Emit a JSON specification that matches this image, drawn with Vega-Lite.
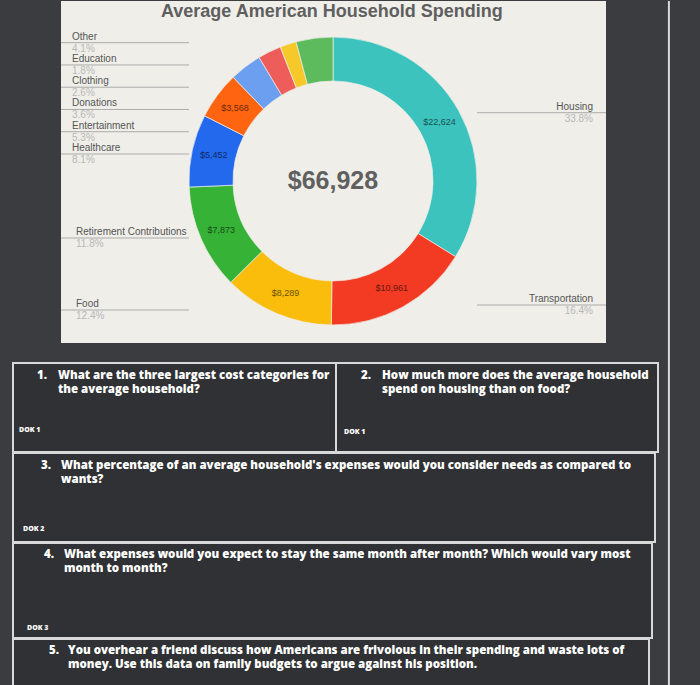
{
  "$schema": "https://vega.github.io/schema/vega-lite/v6.json",
  "background": "#3a3c40",
  "padding": {"left": 12, "top": 0, "right": 0, "bottom": 0},
  "spacing": 0,
  "config": {"view": {"stroke": null}, "font": "Liberation Sans"},
  "datasets": {
    "spending": [
      {"category": "Housing", "value": 22624, "pct": 0.338},
      {"category": "Transportation", "value": 10961, "pct": 0.164},
      {"category": "Food", "value": 8289, "pct": 0.124},
      {"category": "Retirement Contributions", "value": 7873, "pct": 0.118},
      {"category": "Healthcare", "value": 5452, "pct": 0.081},
      {"category": "Entertainment", "value": 3568, "pct": 0.053},
      {"category": "Donations", "value": 2420, "pct": 0.036},
      {"category": "Clothing", "value": 1750, "pct": 0.026},
      {"category": "Education", "value": 1231, "pct": 0.018},
      {"category": "Other", "value": 2760, "pct": 0.041}
    ],
    "questions": [
      {"q": 1, "num": "1.", "text": "What are the three largest cost categories for\nthe average household?", "dok": "DOK 1"},
      {"q": 2, "num": "2.", "text": "How much more does the average household\nspend on housing than on food?", "dok": "DOK 1"},
      {"q": 3, "num": "3.", "text": "What percentage of an average household's expenses would you consider needs as compared to\nwants?", "dok": "DOK 2"},
      {"q": 4, "num": "4.", "text": "What expenses would you expect to stay the same month after month? Which would vary most\nmonth to month?", "dok": "DOK 3"},
      {"q": 5, "num": "5.", "text": "You overhear a friend discuss how Americans are frivolous in their spending and waste lots of\nmoney. Use this data on family budgets to argue against his position.", "dok": ""}
    ]
  },
  "hconcat": [
    {
      "spacing": 19,
      "vconcat": [
        {
          "bounds": "flush",
          "spacing": 0,
          "hconcat": [
            {
              "width": 48, "height": 342,
              "data": {"values": [{}]},
              "mark": {"type": "text"},
              "encoding": {"text": {"value": ""}}
            },
            {
              "width": 128, "height": 342,
              "view": {"fill": "#efeee9", "stroke": null},
              "data": {"name": "spending"},
              "transform": [{"window": [{"op": "row_number", "as": "idx"}]}],
              "resolve": {"scale": {"y": "independent"}},
              "layer": [
                {
                  "transform": [{"filter": {"field": "idx", "gte": 5}}],
                  "encoding": {
                    "y": {"field": "idx", "type": "quantitative", "scale": {"domain": [-3.491, 11.873], "zero": false, "nice": false}, "axis": null}
                  },
                  "layer": [
                    {"mark": {"type": "rule", "color": "#ababab", "strokeWidth": 1}, "encoding": {}},
                    {"mark": {"type": "text", "align": "left", "baseline": "bottom", "dx": 11, "dy": -1, "fontSize": 10, "color": "#555555"},
                     "encoding": {"x": {"datum": 0, "type": "quantitative", "scale": {"domain": [0, 1]}, "axis": null}, "text": {"field": "category"}}},
                    {"mark": {"type": "text", "align": "left", "baseline": "top", "dx": 11, "dy": 1, "fontSize": 10, "color": "#b8b8b8"},
                     "encoding": {"x": {"datum": 0, "type": "quantitative", "scale": {"domain": [0, 1]}, "axis": null}, "text": {"field": "pct", "type": "quantitative", "format": ".1%"}}}
                  ]
                },
                {
                  "transform": [{"filter": {"field": "idx", "range": [3, 4]}}],
                  "encoding": {
                    "y": {"field": "idx", "type": "quantitative", "scale": {"domain": [2.5417, 7.2917], "zero": false, "nice": false}, "axis": null}
                  },
                  "layer": [
                    {"mark": {"type": "rule", "color": "#ababab", "strokeWidth": 1}, "encoding": {}},
                    {"mark": {"type": "text", "align": "left", "baseline": "bottom", "dx": 15, "dy": -1, "fontSize": 10, "color": "#555555"},
                     "encoding": {"x": {"datum": 0, "type": "quantitative", "scale": {"domain": [0, 1]}, "axis": null}, "text": {"field": "category"}}},
                    {"mark": {"type": "text", "align": "left", "baseline": "top", "dx": 15, "dy": 1, "fontSize": 10, "color": "#b8b8b8"},
                     "encoding": {"x": {"datum": 0, "type": "quantitative", "scale": {"domain": [0, 1]}, "axis": null}, "text": {"field": "pct", "type": "quantitative", "format": ".1%"}}}
                  ]
                }
              ]
            },
            {
              "width": 288, "height": 342,
              "view": {"fill": "#efeee9", "stroke": null},
              "data": {"name": "spending"},
              "transform": [{"window": [{"op": "row_number", "as": "idx"}]}],
              "layer": [
                {
                  "mark": {"type": "arc", "innerRadius": 100, "outerRadius": 144, "stroke": "#efeee9", "strokeWidth": 0.7, "yOffset": 9},
                  "encoding": {
                    "theta": {"field": "value", "type": "quantitative", "stack": true},
                    "order": {"field": "idx", "type": "quantitative"},
                    "color": {"field": "category", "type": "nominal", "legend": null,
                      "scale": {
                        "domain": ["Housing", "Transportation", "Food", "Retirement Contributions", "Healthcare", "Entertainment", "Donations", "Clothing", "Education", "Other"],
                        "range": ["#3cc3be", "#f33b24", "#fbbd0b", "#36b336", "#2369ee", "#ff6511", "#6d9ff0", "#ef5d5a", "#f6c829", "#5dba5d"]
                      }}
                  }
                },
                {
                  "mark": {"type": "text", "radius": 122, "yOffset": 9, "fontSize": 9, "color": "#000000", "opacity": 0.6},
                  "encoding": {
                    "theta": {"field": "value", "type": "quantitative", "stack": true},
                    "order": {"field": "idx", "type": "quantitative"},
                    "text": {"condition": {"test": "datum.value >= 3000", "field": "value", "type": "quantitative", "format": "$,.0f"}, "value": ""}
                  }
                },
                {
                  "transform": [{"aggregate": [{"op": "sum", "field": "value", "as": "total"}]}],
                  "mark": {"type": "text", "yOffset": 9, "fontSize": 25, "fontWeight": "bold", "color": "#606060", "baseline": "middle"},
                  "encoding": {"text": {"field": "total", "type": "quantitative", "format": "$,.0f"}}
                }
              ]
            },
            {
              "width": 129, "height": 342,
              "view": {"fill": "#efeee9", "stroke": null},
              "title": {"text": "Average American Household Spending", "frame": "group", "anchor": "start", "dx": -316, "offset": -20, "limit": 0, "fontSize": 18, "fontWeight": "bold", "color": "#5f5f5f", "font": "Liberation Sans"},
              "data": {"name": "spending"},
              "transform": [{"window": [{"op": "row_number", "as": "idx"}]}, {"filter": {"field": "idx", "lte": 2}}],
              "encoding": {
                "y": {"field": "idx", "type": "quantitative", "scale": {"domain": [0.4191, 2.1976], "zero": false, "nice": false, "reverse": true}, "axis": null}
              },
              "layer": [
                {"mark": {"type": "rule", "color": "#ababab", "strokeWidth": 1}, "encoding": {}},
                {"mark": {"type": "text", "align": "right", "baseline": "bottom", "dx": -13, "dy": -1, "fontSize": 10, "color": "#555555"},
                 "encoding": {"x": {"datum": 1, "type": "quantitative", "scale": {"domain": [0, 1]}, "axis": null}, "text": {"field": "category"}}},
                {"mark": {"type": "text", "align": "right", "baseline": "top", "dx": -13, "dy": 1, "fontSize": 10, "color": "#b8b8b8"},
                 "encoding": {"x": {"datum": 1, "type": "quantitative", "scale": {"domain": [0, 1]}, "axis": null}, "text": {"field": "pct", "type": "quantitative", "format": ".1%"}}}
              ]
            }
          ]
        },
        {
          "spacing": -2,
          "vconcat": [
            {
              "bounds": "flush",
              "spacing": 0,
              "hconcat": [
                {
                  "width": 323, "height": 89,
                  "view": {"fill": "#303134", "stroke": "#d8d8d8", "strokeWidth": 2},
                  "data": {"name": "questions"},
                  "transform": [{"filter": {"field": "q", "equal": 1}}],
                  "encoding": {
                    "x": {"datum": 0, "type": "quantitative", "scale": {"domain": [0, 1]}, "axis": null},
                    "y": {"datum": 1, "type": "quantitative", "scale": {"domain": [0, 1]}, "axis": null}
                  },
                  "layer": [
                    {"mark": {"type": "text", "align": "left", "baseline": "top", "dx": 24, "dy": 7, "font": "Open Sans", "fontWeight": 800, "fontSize": 11.5, "color": "#ffffff"}, "encoding": {"text": {"field": "num"}}},
                    {"mark": {"type": "text", "align": "left", "baseline": "top", "dx": 45, "dy": 7, "font": "Open Sans", "fontWeight": 800, "fontSize": 11.5, "lineHeight": 13.5, "lineBreak": "\n", "color": "#ffffff"}, "encoding": {"text": {"field": "text"}}},
                    {"mark": {"type": "text", "align": "left", "baseline": "bottom", "dx": 6, "dy": -19, "font": "Open Sans", "fontWeight": 800, "fontSize": 7, "color": "#ffffff"},
                     "encoding": {"y": {"datum": 0, "type": "quantitative", "scale": {"domain": [0, 1]}, "axis": null}, "text": {"field": "dok"}}}
                  ]
                },
                {
                  "width": 322, "height": 89,
                  "view": {"fill": "#303134", "stroke": "#d8d8d8", "strokeWidth": 2},
                  "data": {"name": "questions"},
                  "transform": [{"filter": {"field": "q", "equal": 2}}],
                  "encoding": {
                    "x": {"datum": 0, "type": "quantitative", "scale": {"domain": [0, 1]}, "axis": null},
                    "y": {"datum": 1, "type": "quantitative", "scale": {"domain": [0, 1]}, "axis": null}
                  },
                  "layer": [
                    {"mark": {"type": "text", "align": "left", "baseline": "top", "dx": 25, "dy": 7, "font": "Open Sans", "fontWeight": 800, "fontSize": 11.5, "color": "#ffffff"}, "encoding": {"text": {"field": "num"}}},
                    {"mark": {"type": "text", "align": "left", "baseline": "top", "dx": 46, "dy": 7, "font": "Open Sans", "fontWeight": 800, "fontSize": 11.5, "lineHeight": 13.5, "lineBreak": "\n", "color": "#ffffff"}, "encoding": {"text": {"field": "text"}}},
                    {"mark": {"type": "text", "align": "left", "baseline": "bottom", "dx": 8, "dy": -17, "font": "Open Sans", "fontWeight": 800, "fontSize": 7, "color": "#ffffff"},
                     "encoding": {"y": {"datum": 0, "type": "quantitative", "scale": {"domain": [0, 1]}, "axis": null}, "text": {"field": "dok"}}}
                  ]
                }
              ]
            },
            {
              "width": 642, "height": 89,
              "view": {"fill": "#303134", "stroke": "#d8d8d8", "strokeWidth": 2},
              "data": {"name": "questions"},
              "transform": [{"filter": {"field": "q", "equal": 3}}],
              "encoding": {
                "x": {"datum": 0, "type": "quantitative", "scale": {"domain": [0, 1]}, "axis": null},
                "y": {"datum": 1, "type": "quantitative", "scale": {"domain": [0, 1]}, "axis": null}
              },
              "layer": [
                {"mark": {"type": "text", "align": "left", "baseline": "top", "dx": 28, "dy": 7, "font": "Open Sans", "fontWeight": 800, "fontSize": 11.5, "color": "#ffffff"}, "encoding": {"text": {"field": "num"}}},
                {"mark": {"type": "text", "align": "left", "baseline": "top", "dx": 48, "dy": 7, "font": "Open Sans", "fontWeight": 800, "fontSize": 11.5, "lineHeight": 13.5, "lineBreak": "\n", "color": "#ffffff"}, "encoding": {"text": {"field": "text"}}},
                {"mark": {"type": "text", "align": "left", "baseline": "bottom", "dx": 10, "dy": -10, "font": "Open Sans", "fontWeight": 800, "fontSize": 7, "color": "#ffffff"},
                 "encoding": {"y": {"datum": 0, "type": "quantitative", "scale": {"domain": [0, 1]}, "axis": null}, "text": {"field": "dok"}}}
              ]
            },
            {
              "width": 639, "height": 95,
              "view": {"fill": "#303134", "stroke": "#d8d8d8", "strokeWidth": 2},
              "data": {"name": "questions"},
              "transform": [{"filter": {"field": "q", "equal": 4}}],
              "encoding": {
                "x": {"datum": 0, "type": "quantitative", "scale": {"domain": [0, 1]}, "axis": null},
                "y": {"datum": 1, "type": "quantitative", "scale": {"domain": [0, 1]}, "axis": null}
              },
              "layer": [
                {"mark": {"type": "text", "align": "left", "baseline": "top", "dx": 31, "dy": 6, "font": "Open Sans", "fontWeight": 800, "fontSize": 11.5, "color": "#ffffff"}, "encoding": {"text": {"field": "num"}}},
                {"mark": {"type": "text", "align": "left", "baseline": "top", "dx": 51, "dy": 6, "font": "Open Sans", "fontWeight": 800, "fontSize": 11.5, "lineHeight": 13.5, "lineBreak": "\n", "color": "#ffffff"}, "encoding": {"text": {"field": "text"}}},
                {"mark": {"type": "text", "align": "left", "baseline": "bottom", "dx": 14, "dy": -7, "font": "Open Sans", "fontWeight": 800, "fontSize": 7, "color": "#ffffff"},
                 "encoding": {"y": {"datum": 0, "type": "quantitative", "scale": {"domain": [0, 1]}, "axis": null}, "text": {"field": "dok"}}}
              ]
            },
            {
              "width": 636, "height": 60,
              "view": {"fill": "#303134", "stroke": "#d8d8d8", "strokeWidth": 2},
              "data": {"name": "questions"},
              "transform": [{"filter": {"field": "q", "equal": 5}}],
              "encoding": {
                "x": {"datum": 0, "type": "quantitative", "scale": {"domain": [0, 1]}, "axis": null},
                "y": {"datum": 1, "type": "quantitative", "scale": {"domain": [0, 1]}, "axis": null}
              },
              "layer": [
                {"mark": {"type": "text", "align": "left", "baseline": "top", "dx": 36, "dy": 6, "font": "Open Sans", "fontWeight": 800, "fontSize": 11.5, "color": "#ffffff"}, "encoding": {"text": {"field": "num"}}},
                {"mark": {"type": "text", "align": "left", "baseline": "top", "dx": 55, "dy": 6, "font": "Open Sans", "fontWeight": 800, "fontSize": 11.5, "lineHeight": 13.5, "lineBreak": "\n", "color": "#ffffff"}, "encoding": {"text": {"field": "text"}}}
              ]
            }
          ]
        }
      ]
    },
    {
      "width": 45, "height": 685,
      "data": {"values": [{}]},
      "mark": {"type": "rule", "color": "#d8d8d8", "strokeWidth": 2},
      "encoding": {"x": {"datum": 0, "type": "quantitative", "scale": {"domain": [-0.22, 0.78]}, "axis": null}}
    }
  ]
}
